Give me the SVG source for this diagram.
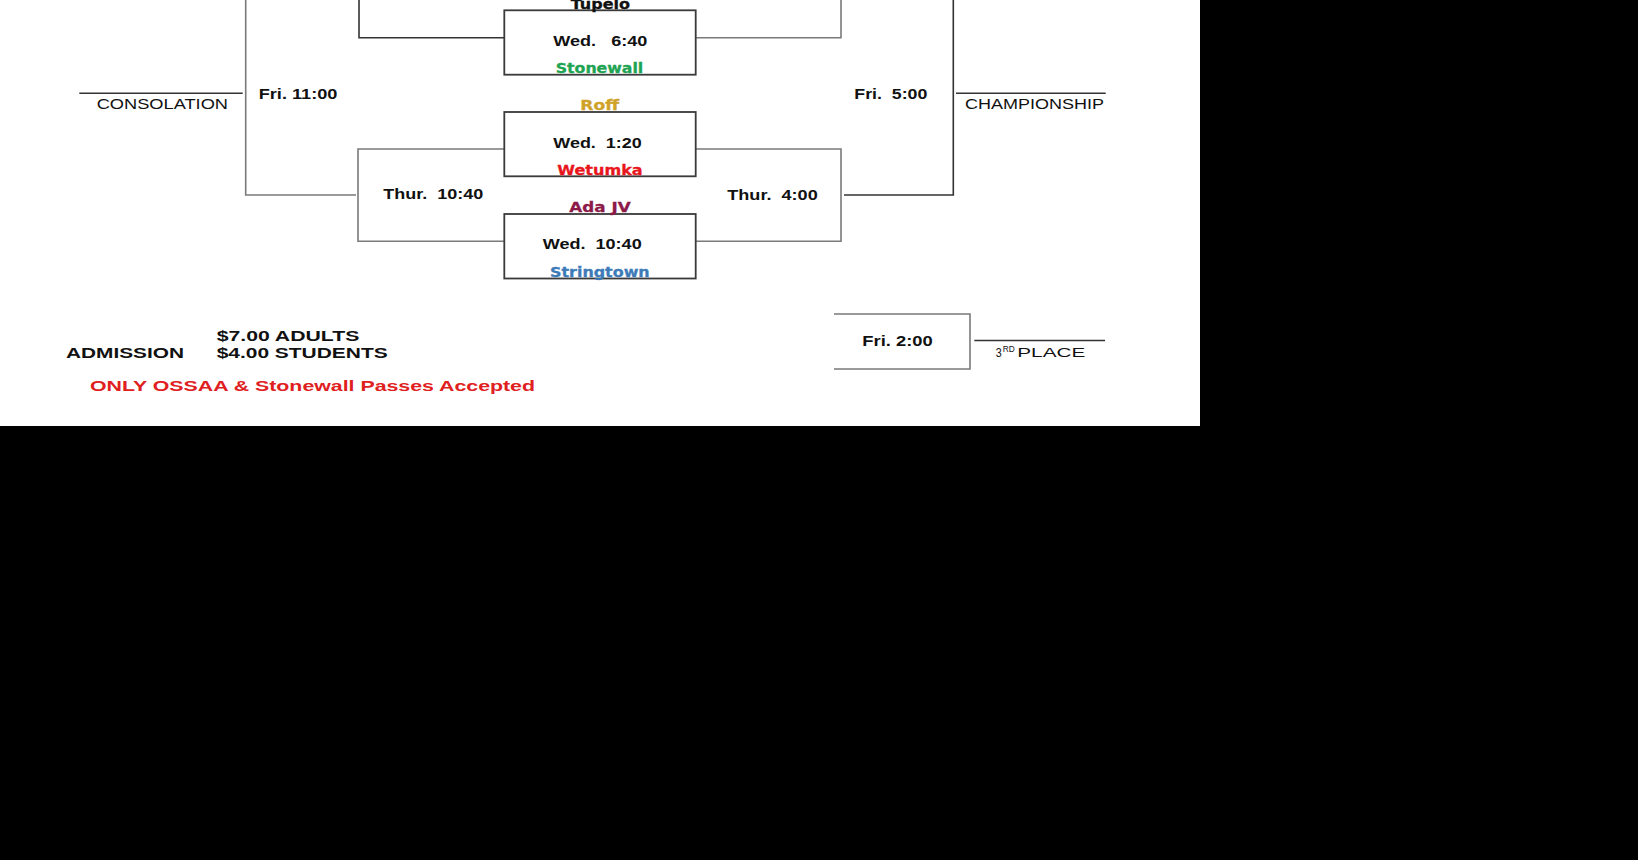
<svg xmlns="http://www.w3.org/2000/svg" width="1638" height="860" viewBox="0 0 1638 860">
<style>
.t{font-family:"Liberation Sans",Arial,sans-serif;font-weight:bold;font-size:14px;fill:#111;}
.r{font-family:"Liberation Sans",Arial,sans-serif;font-size:14px;fill:#111;}
.team{font-family:"DejaVu Sans",Verdana,sans-serif;font-weight:bold;font-size:14px;stroke-width:0.3;}
.box{fill:#fff;stroke:#3a3a3a;stroke-width:1.8;}
.c{fill:none;stroke:#7a7a7a;stroke-width:1.6;}
.d{fill:none;stroke:#333;stroke-width:1.6;}
</style>
<rect x="0" y="0" width="1638" height="860" fill="#000"/>
<rect x="0" y="0" width="1200" height="426" fill="#fff"/>
<g id="connectors">
<path class="d" d="M359,0 V37.7 H504"/>
<path class="c" d="M245.7,0 V195 H356"/>
<path class="d" d="M79.3,93.3 H242.7"/>
<path class="c" d="M504,149 H358 V241.3 H504"/>
<path class="c" d="M695.7,37.7 H841 V0"/>
<path class="c" d="M695.7,149 H841 V241.3 H695.7"/>
<path class="d" d="M844,195 H953.3 V0"/>
<path class="d" d="M956,93.3 H1105.7"/>
<path class="c" d="M834,314 H970 V369 H834"/>
<path class="d" d="M974.3,340.5 H1105"/>
</g>
<g id="game-wed-640">
<rect class="box" x="504.3" y="10.3" width="191.4" height="64.4"/>
<text class="team" x="570.7" y="9" textLength="59.3" lengthAdjust="spacingAndGlyphs" fill="#111" stroke="#111">Tupelo</text>
<text class="t" x="553.3" y="45.7" textLength="94" lengthAdjust="spacingAndGlyphs" xml:space="preserve">Wed.   6:40</text>
<text class="team" x="555.7" y="73" textLength="87.6" lengthAdjust="spacingAndGlyphs" fill="#1da352" stroke="#1da352">Stonewall</text>
</g>
<g id="game-wed-120">
<rect class="box" x="504.3" y="112" width="191.4" height="64.3"/>
<text class="team" x="580.3" y="109.7" textLength="38.7" lengthAdjust="spacingAndGlyphs" fill="#cfa22a" stroke="#cfa22a">Roff</text>
<text class="t" x="553.3" y="148.3" textLength="88.4" lengthAdjust="spacingAndGlyphs" xml:space="preserve">Wed.  1:20</text>
<text class="team" x="557.3" y="174.7" textLength="85.4" lengthAdjust="spacingAndGlyphs" fill="#e8161c" stroke="#e8161c">Wetumka</text>
</g>
<g id="game-wed-1040">
<rect class="box" x="504.3" y="214" width="191.4" height="64.5"/>
<text class="team" x="569.3" y="211.8" textLength="61.4" lengthAdjust="spacingAndGlyphs" fill="#8c1a48" stroke="#8c1a48">Ada JV</text>
<text class="t" x="542.7" y="249.3" textLength="99" lengthAdjust="spacingAndGlyphs" xml:space="preserve">Wed.  10:40</text>
<text class="team" x="550" y="276.7" textLength="99.7" lengthAdjust="spacingAndGlyphs" fill="#3d7bb8" stroke="#3d7bb8">Stringtown</text>
</g>
<g id="game-fri-1100">
<text class="t" x="258.7" y="99.3" textLength="78.7" lengthAdjust="spacingAndGlyphs">Fri. 11:00</text>
</g>
<g id="game-thur-1040">
<text class="t" x="383.3" y="199.3" textLength="100" lengthAdjust="spacingAndGlyphs" xml:space="preserve">Thur.  10:40</text>
</g>
<g id="game-thur-400">
<text class="t" x="727.3" y="200" textLength="90.4" lengthAdjust="spacingAndGlyphs" xml:space="preserve">Thur.  4:00</text>
</g>
<g id="game-fri-500">
<text class="t" x="854.3" y="99.3" textLength="73" lengthAdjust="spacingAndGlyphs" xml:space="preserve">Fri.  5:00</text>
</g>
<g id="game-fri-200">
<text class="t" x="862.3" y="345.7" textLength="70.4" lengthAdjust="spacingAndGlyphs">Fri. 2:00</text>
</g>
<g id="consolation">
<text class="r" x="96.7" y="108.7" textLength="131.3" lengthAdjust="spacingAndGlyphs">CONSOLATION</text>
</g>
<g id="championship">
<text class="r" x="965" y="109" textLength="139" lengthAdjust="spacingAndGlyphs">CHAMPIONSHIP</text>
</g>
<g id="third-place">
<text class="r" x="995.7" y="356.7" style="font-size:12.5px" textLength="6" lengthAdjust="spacingAndGlyphs">3</text>
<text class="r" x="1002.7" y="352.4" style="font-size:9.5px" textLength="12" lengthAdjust="spacingAndGlyphs">RD</text>
<text class="r" x="1017.3" y="356.7" style="font-size:12.5px" textLength="68" lengthAdjust="spacingAndGlyphs">PLACE</text>
</g>
<g id="admission">
<text class="t" x="66" y="358.3" style="font-size:14.5px" textLength="118" lengthAdjust="spacingAndGlyphs">ADMISSION</text>
<text class="t" x="216.7" y="341.3" style="font-size:14.5px" textLength="142.6" lengthAdjust="spacingAndGlyphs">$7.00 ADULTS</text>
<text class="t" x="216.7" y="358.3" style="font-size:14.5px" textLength="171" lengthAdjust="spacingAndGlyphs">$4.00 STUDENTS</text>
<text class="t" x="90" y="391" style="font-size:14px;fill:#e0201e" textLength="445" lengthAdjust="spacingAndGlyphs">ONLY OSSAA &amp; Stonewall Passes Accepted</text>
</g>
</svg>
